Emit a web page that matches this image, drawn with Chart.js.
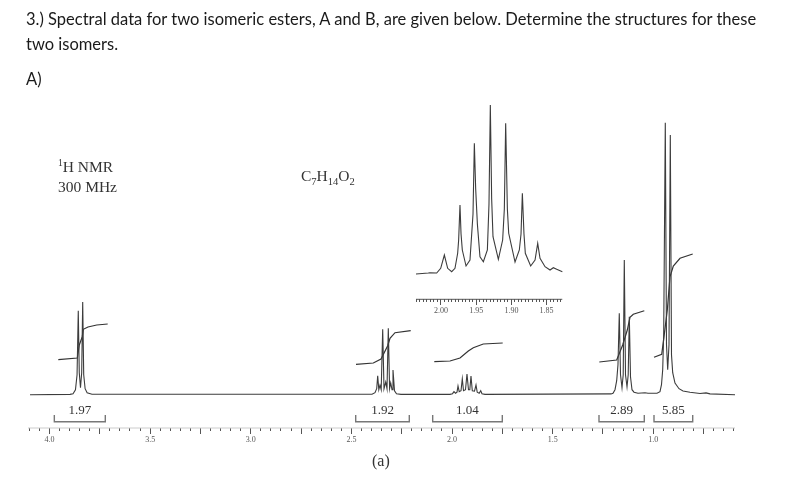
<!DOCTYPE html>
<html>
<head>
<meta charset="utf-8">
<script src="https://cdn.jsdelivr.net/npm/chart.js@4"></script>
<style>
  body { margin: 0; background: #fff; }
  #wrap { position: relative; width: 796px; height: 492px; overflow: hidden; }
  canvas { position: absolute; left: 0; top: 0; }
  .q { position: absolute; left: 26px; font-family: Lato, sans-serif; font-size: 16.5px; color: #1a1a1a; white-space: nowrap; }
  .s { position: absolute; font-family: "Liberation Serif", serif; color: #333; white-space: nowrap; }
  sub { font-size: 68%; line-height: 0; }
  sup { font-size: 62%; line-height: 0; }
</style>
</head>
<body>
<div id="wrap">
  <canvas id="nmr" width="796" height="492"></canvas>
  <div class="q" style="top:9px">3.) Spectral data for two isomeric esters, A and B, are given below. Determine the structures for these</div>
  <div class="q" style="top:34px">two isomers.</div>
  <div class="q" style="top:69px">A)</div>
  <div class="s" style="left:58px;top:158px;font-size:15.5px"><sup>1</sup>H NMR</div>
  <div class="s" style="left:58px;top:178px;font-size:15.5px">300 MHz</div>
  <div class="s" style="left:301px;top:167px;font-size:15.5px">C<sub>7</sub>H<sub>14</sub>O<sub>2</sub></div>
  <div class="s" style="left:372px;top:452px;font-size:16px">(a)</div>
</div>
<script>
// main spectrum, chemical shift (ppm) and height above baseline
const spectrumPpm = [
  4.0968, 3.898, 3.883, 3.871, 3.863, 3.857, 3.852, 3.846, 3.840, 3.835, 3.830, 3.823, 3.813, 3.789,
  2.3976, 2.3827, 2.3743, 2.3693, 2.3638, 2.3579, 2.3519, 2.3445, 2.3380, 2.3295, 2.3231, 2.3166,
  2.3102, 2.3047, 2.2982, 2.2933, 2.2858, 2.2759, 2.2535,
  2.0101, 1.9977, 1.9902, 1.9827, 1.9753, 1.9703, 1.9644, 1.9554, 1.9490, 1.9430, 1.9331, 1.9257,
  1.9182, 1.9117, 1.9058, 1.8993, 1.8884, 1.8809, 1.8749, 1.8650, 1.8575, 1.8511, 1.8362,
  1.2101, 1.2002, 1.1903, 1.1819, 1.1755, 1.1690, 1.1629, 1.1555, 1.1495, 1.1441, 1.1381, 1.1306,
  1.1247, 1.1192, 1.1133, 1.1058, 1.0959, 1.0760, 1.0412, 1.0263,
  0.9816, 0.9667, 0.9593, 0.9533, 0.9484, 0.9404, 0.9344, 0.9285, 0.9220, 0.9155, 0.9096, 0.9036,
  0.8922, 0.8723, 0.8523, 0.8177, 0.7680, 0.7381, 0.7183, 0.5940
];
const spectrumHeight = [
  0, 0.3, 1, 5, 20, 84, 22, 7, 22, 92.7, 20, 6, 2, 0.5,
  0.5, 2, 6, 19, 5, 9.5, 5, 65.4, 6, 12.7, 6, 66.4,
  6, 11.7, 5, 24.7, 4, 1, 0.3,
  0.3, 1, 3, 1.5, 2.5, 8.7, 3, 4, 16, 4, 5, 20.7,
  5, 5, 18.7, 4, 3.5, 9.7, 2.5, 1.5, 4, 1, 0.3,
  0.8, 1.5, 5, 14, 30, 81.4, 20, 7, 20, 134.7, 20, 8,
  20, 78, 18, 5, 2.5, 1.5, 2, 1.5,
  1.5, 3, 10, 25, 60, 272, 50, 25, 50, 259.7, 40, 22,
  11.7, 6, 3.7, 2.5, 1.2, 1.8, 0.8, 0
];

// expanded multiplet
const insetPpm = [
  2.0355, 2.0180, 2.0156, 2.0061, 2.0004, 1.9952, 1.9905, 1.9848, 1.9801, 1.9763, 1.9749, 1.9730, 1.9715, 1.9697, 1.9644,
  1.9588, 1.9545, 1.9526, 1.9507, 1.9483, 1.9446, 1.9398, 1.9341, 1.9318, 1.9299, 1.9280, 1.9261, 1.9185, 1.9124,
  1.9100, 1.9081, 1.9057, 1.9038, 1.8948,
  1.8887, 1.8863, 1.8844, 1.8821, 1.8802, 1.8726, 1.8664, 1.8626, 1.8593, 1.8522, 1.8451, 1.8404, 1.8356, 1.8276
];
const insetHeight = [
  0, 1, 1.3, 1, 5.7, 19, 5.7, 2.3, 5.7, 20.7, 34, 69, 40, 24, 8,
  14, 60, 130.7, 85, 50, 17.3, 12.3, 24, 70, 169, 75, 37.3, 14.7, 34,
  65, 150.7, 65, 40.7, 12,
  24, 40, 80.7, 40, 20.7, 8, 14, 30.7, 15.7, 7.3, 4, 6.3, 4.7, 2.3
];

// integral traces
const integralPpm = [
  [3.9562, 3.8618, 3.8519, 3.8370, 3.8320, 3.8087, 3.7654, 3.7108],
  [2.4771, 2.3911, 2.3529, 2.3196, 2.3082, 2.2834, 2.2053],
  [2.0881, 2.0101, 1.9604, 1.9191, 1.8943, 1.8447, 1.7483],
  [1.2683, 1.1819, 1.1521, 1.1292, 1.1158, 1.0994, 1.0447],
  [0.9965, 0.9582, 0.9468, 0.9304, 0.9170, 0.9006, 0.8673, 0.8042]
];
const integralHeight = [
  [35, 36.7, 49.7, 58, 65.4, 67.7, 69.7, 70.7],
  [30.4, 31.7, 35.7, 49, 56.4, 62, 64],
  [33, 33.7, 36.7, 43.7, 47, 50.7, 51.7],
  [32.7, 34.7, 49.7, 64.7, 77.4, 80.4, 84],
  [37.4, 40.4, 58, 84.7, 118, 128.7, 136.4, 140.7]
];
const integralLabels = ['1.97', '1.92', '1.04', '2.89', '5.85'];
const bracketFrom = [3.976, 2.4786, 2.0961, 1.2698, 0.9965];
const bracketTo = [3.7227, 2.2123, 1.7502, 1.0447, 0.8042];

const bracketTop = -20.3;
const bracketBottom = -27;
const labelLevel = -15.5;
const axisLevel = -33.3;
const insetAxisLevel = -25.3;

const axisStart = 4.1068, axisEnd = 0.594;
const insetStart = 2.0355, insetEnd = 1.8277;

function zip(xs, ys) {
  return xs.map((x, i) => ({ x: x, y: ys[i] }));
}

function clipTicks(from, to) {
  return (scale) => {
    scale.ticks = scale.ticks.filter(t => t.value <= from + 1e-6 && t.value >= to - 1e-6);
  };
}

function isMultiple(v, step) {
  const r = v / step;
  return Math.abs(r - Math.round(r)) < 1e-6;
}

const mainRange = { type: 'linear', reverse: true, min: 0.291, max: 4.2459 };
const insetRange = { type: 'linear', reverse: true, min: 1.4957, max: 2.6264 };

function tickAxis(range, level, yId, step, len, from, to, labelStep, digits, size) {
  const pos = {};
  pos[yId] = level;
  return Object.assign({}, range, {
    position: pos,
    border: { display: false },
    grid: { drawOnChartArea: false, drawTicks: true, tickLength: len, tickColor: '#555', tickWidth: 1 },
    afterBuildTicks: clipTicks(from, to),
    ticks: {
      stepSize: step,
      autoSkip: false,
      maxRotation: 0,
      padding: 1,
      color: '#555',
      font: { family: 'Liberation Serif', size: size },
      callback: v => labelStep && isMultiple(v, labelStep) ? v.toFixed(digits) : ''
    }
  });
}

const datasets = [];
function addLine(points, xId, yId, color, width) {
  datasets.push({ data: points, xAxisID: xId, yAxisID: yId, borderColor: color, borderWidth: width, pointRadius: 0, tension: 0, fill: false });
}

addLine(zip(spectrumPpm, spectrumHeight), 'x', 'y', '#3c3c3c', 1.1);
addLine(zip(insetPpm, insetHeight), 'xInset', 'yInset', '#3c3c3c', 1.1);
integralPpm.forEach((ppm, i) => addLine(zip(ppm, integralHeight[i]), 'x', 'y', '#333', 1.2));
bracketFrom.forEach((from, i) => {
  const to = bracketTo[i];
  addLine(zip([from, from, to, to], [bracketTop, bracketBottom, bracketBottom, bracketTop]), 'x', 'y', '#777', 1.4);
});
addLine(zip([axisStart, axisEnd], [axisLevel, axisLevel]), 'x', 'y', '#ccc', 1);
addLine(zip([insetStart, insetEnd], [insetAxisLevel, insetAxisLevel]), 'xInset', 'yInset', '#555', 1);

const integralText = {
  id: 'integralText',
  afterDatasetsDraw(chart) {
    const ctx = chart.ctx;
    ctx.save();
    ctx.font = '13px "Liberation Serif"';
    ctx.fillStyle = '#333';
    ctx.textAlign = 'center';
    ctx.textBaseline = 'middle';
    integralLabels.forEach((label, i) => {
      const mid = (bracketFrom[i] + bracketTo[i]) / 2;
      ctx.fillText(label, chart.scales.x.getPixelForValue(mid), chart.scales.y.getPixelForValue(labelLevel));
    });
    ctx.restore();
  }
};

new Chart(document.getElementById('nmr'), {
  type: 'line',
  data: { datasets: datasets },
  plugins: [integralText],
  options: {
    responsive: false,
    animation: false,
    layout: { padding: 0, autoPadding: false },
    plugins: { legend: { display: false }, tooltip: { enabled: false } },
    scales: {
      y: { type: 'linear', display: false, min: -97.3, max: 394.7 },
      yInset: { type: 'linear', display: false, min: -218, max: 274 },
      x: tickAxis(mainRange, axisLevel, 'y', 0.25, 6, axisStart, axisEnd, 0.5, 1, 8),
      xMinor: tickAxis(mainRange, axisLevel, 'y', 0.05, 3, axisStart, axisEnd, 0, 1, 8),
      xInset: tickAxis(insetRange, insetAxisLevel, 'yInset', 0.05, 6, insetStart, insetEnd, 0.05, 2, 8),
      xInsetMinor: tickAxis(insetRange, insetAxisLevel, 'yInset', 0.005, 3, insetStart, insetEnd, 0, 2, 8)
    }
  }
});
</script>
</body>
</html>
